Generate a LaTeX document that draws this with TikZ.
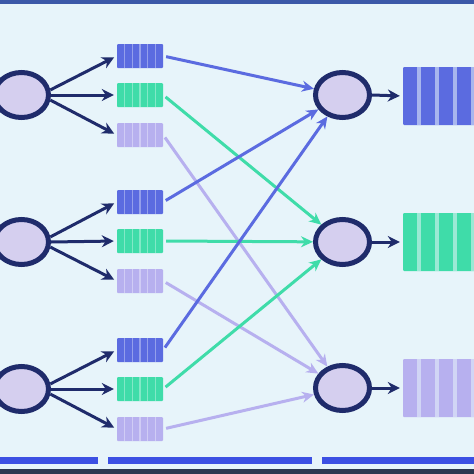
\documentclass[tikz,border=0pt]{standalone}
\usepackage{xcolor}
\usepackage{tikz}
\usetikzlibrary{shapes.geometric,arrows.meta}

\definecolor{navy}{HTML}{1F2B6B}
\definecolor{qblue}{HTML}{5B6BE0}
\definecolor{qgreen}{HTML}{3FDCA9}
\definecolor{qlav}{HTML}{B7B0EF}
\definecolor{bgcol}{HTML}{E7F4FA}
\definecolor{srvfill}{HTML}{D5CFEF}
\definecolor{stripcol}{HTML}{3B58A8}
\definecolor{barcol}{HTML}{3C50E3}
\definecolor{darkband}{HTML}{2C3850}

\tikzset{
  srv/.style={ellipse, draw=navy, line width=5pt, fill=srvfill,
    minimum width=54pt, minimum height=45pt, inner sep=0pt},
  qbox/.style={rectangle, rounded corners=1pt, fill=#1, minimum width=46pt,
    minimum height=24pt, inner sep=0pt,
    path picture={\foreach \k in {1,...,5}
      \draw[line width=1.1pt, white!35!#1]
        ([xshift=\k*7.67pt]path picture bounding box.north west) --
        ([xshift=\k*7.67pt]path picture bounding box.south west);}},
  bigq/.style={rectangle, rounded corners=1pt, fill=#1, minimum width=90pt,
    minimum height=58pt, inner sep=0pt,
    path picture={\foreach \k in {1,...,4}
      \draw[line width=4pt, bgcol!55!#1]
        ([xshift=\k*18pt-2pt]path picture bounding box.north west) --
        ([xshift=\k*18pt-2pt]path picture bounding box.south west);}},
  feed/.style={navy, line width=3pt, -{Stealth[length=12pt,width=12pt]},
    shorten >=3pt},
  link/.style={#1, line width=3pt, -{Stealth[length=12pt,width=11pt]},
    shorten <=3pt}
}

\begin{document}
\begin{tikzpicture}[x=1pt,y=-1pt]
\useasboundingbox (0,0) rectangle (474,474);
\fill[bgcol] (0,0) rectangle (474,474);
\fill[stripcol] (0,0) rectangle (474,4);
\fill[barcol] (0,457) rectangle (98,464);
\fill[barcol] (108,457) rectangle (312,464);
\fill[barcol] (322,457) rectangle (474,464);
\fill[darkband] (0,469) rectangle (474,474);

% sources
\node[srv] (s1) at (21.5,95) {};
\node[srv] (s2) at (21.5,242) {};
\node[srv] (s3) at (21.5,389) {};

% small queues
\node[qbox=qblue] (q11) at (140,56) {};
\node[qbox=qgreen] (q12) at (140,95) {};
\node[qbox=qlav] (q13) at (140,135) {};
\node[qbox=qblue] (q21) at (140,202) {};
\node[qbox=qgreen] (q22) at (140,241) {};
\node[qbox=qlav] (q23) at (140,281) {};
\node[qbox=qblue] (q31) at (140,350) {};
\node[qbox=qgreen] (q32) at (140,389) {};
\node[qbox=qlav] (q33) at (140,429) {};

% sinks
\node[srv] (t1) at (342.5,95) {};
\node[srv] (t2) at (342.5,242) {};
\node[srv] (t3) at (342.5,388) {};

\node[bigq=qblue] (b1) at (448,96) {};
\node[bigq=qgreen] (b2) at (448,242) {};
\node[bigq=qlav] (b3) at (448,388) {};

\draw[feed] (s1.10) -- (q11.west);
\draw[feed] (s1.east) -- (q12.west);
\draw[feed] (s1.-10) -- (q13.west);
\draw[feed] (s2.10) -- (q21.west);
\draw[feed] (s2.east) -- (q22.west);
\draw[feed] (s2.-10) -- (q23.west);
\draw[feed] (s3.10) -- (q31.west);
\draw[feed] (s3.east) -- (q32.west);
\draw[feed] (s3.-10) -- (q33.west);

\draw[link=qblue] (q11.east) -- (t1);
\draw[link=qgreen] (q12.east) -- (t2);
\draw[link=qlav] (q13.east) -- (t3);
\draw[link=qblue] (q21.east) -- (t1);
\draw[link=qgreen] (q22.east) -- (t2);
\draw[link=qlav] (q23.east) -- (t3);
\draw[link=qblue] (q31.east) -- (t1);
\draw[link=qgreen] (q32.east) -- (t2);
\draw[link=qlav] (q33.east) -- (t3);

\draw[feed] (t1.east) -- (b1.west);
\draw[feed] (t2.east) -- (b2.west);
\draw[feed] (t3.east) -- (b3.west);
\end{tikzpicture}
\end{document}
